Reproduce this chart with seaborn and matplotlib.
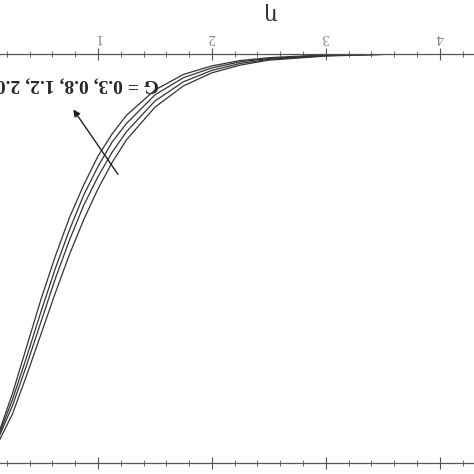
import numpy as np
import pandas as pd
import matplotlib
matplotlib.use("Agg")
import matplotlib.pyplot as plt
import seaborn as sns
from matplotlib.ticker import MultipleLocator

# data (image is vertically flipped; f is depth below the top axis)
eta = [0, 0.125, 0.25, 0.375, 0.5, 0.625, 0.75, 0.875, 1.0, 1.125, 1.25, 1.5, 1.75, 2.0, 2.25, 2.5, 3.0, 3.5, 4.0]
f_g03 = [1.00, 0.95, 0.88, 0.785, 0.685, 0.585, 0.49, 0.405, 0.33, 0.265, 0.21, 0.13, 0.078, 0.046, 0.027, 0.015, 0.005, 0.001, 0]
f_g08 = [1.00, 0.94, 0.86, 0.76, 0.655, 0.55, 0.455, 0.37, 0.30, 0.24, 0.19, 0.115, 0.068, 0.040, 0.023, 0.013, 0.004, 0.001, 0]
f_g12 = [1.00, 0.935, 0.845, 0.74, 0.63, 0.525, 0.43, 0.345, 0.275, 0.215, 0.17, 0.10, 0.058, 0.034, 0.019, 0.011, 0.003, 0.001, 0]
f_g20 = [1.00, 0.93, 0.83, 0.715, 0.60, 0.495, 0.40, 0.32, 0.25, 0.195, 0.15, 0.088, 0.050, 0.029, 0.016, 0.009, 0.002, 0, 0]
g_labels = ["0.3", "0.8", "1.2", "2.0"]

rows = []
for g, f in zip(g_labels, [f_g03, f_g08, f_g12, f_g20]):
    for e, v in zip(eta, f):
        rows.append({"eta": e, "f": v, "G": g})
df = pd.DataFrame(rows)

sns.set_style("white")
fig = plt.figure(figsize=(4.74, 4.74), dpi=100)
ax = fig.add_axes([-16 / 474, 1 - 463 / 474, 490 / 474, 409 / 474])
sns.lineplot(data=df, x="eta", y="f", units="G", estimator=None,
             color="#333333", lw=0.9, ax=ax, legend=False)
ax.set_xlim(0, 4.3)
ax.set_ylim(1.0, 0.0)
ax.set_xlabel("")
ax.set_ylabel("")
ax.set_yticks([])
for s in ["left", "right"]:
    ax.spines[s].set_visible(False)
for s in ["top", "bottom"]:
    ax.spines[s].set_color("#555555")
    ax.spines[s].set_linewidth(0.9)
ax.xaxis.set_major_locator(MultipleLocator(1))
ax.xaxis.set_minor_locator(MultipleLocator(0.2))
ax.tick_params(axis="x", which="both", top=True, bottom=True, direction="inout",
               labeltop=True, labelbottom=False, color="#555555")
ax.tick_params(axis="x", which="major", length=8)
ax.tick_params(axis="x", which="minor", length=5)
ax.set_xticks([1, 2, 3, 4])
ax.set_xticklabels(["1", "2", "3", "4"], rotation=180, color="#888888",
                   family="Liberation Serif", fontsize=11)

ax.text(2.51, -0.1, "η", rotation=180, fontsize=16, ha="center", va="center",
        family="DejaVu Serif", color="#333333")
label = "G = 0.3, 0.8, 1.2, 2.0"
ax.text(0.82, 0.075, label, rotation=180, fontsize=14, fontweight="bold",
        ha="center", va="center", family="Liberation Serif")
ax.annotate("", xy=(0.77, 0.13), xytext=(1.19, 0.30),
            arrowprops=dict(arrowstyle="-|>", color="#222222", lw=1))

fig.savefig("out.png", dpi=100)
